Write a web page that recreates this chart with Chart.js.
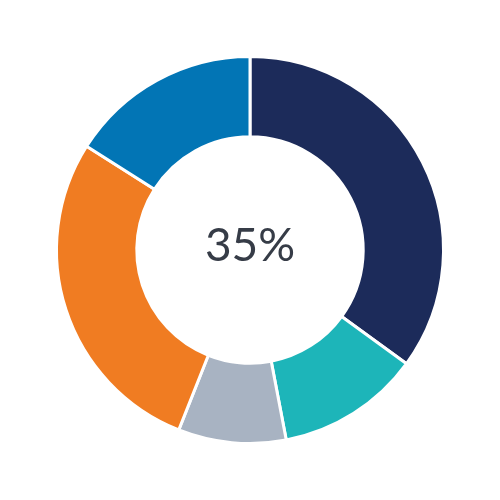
<!DOCTYPE html>
<html>
<head>
<meta charset="utf-8">
<script src="https://cdn.jsdelivr.net/npm/chart.js@4/dist/chart.umd.min.js"></script>
<style>
  html, body { margin: 0; padding: 0; background: #fff; }
  #wrap { width: 500px; height: 500px; position: relative; }
</style>
</head>
<body>
<div id="wrap"><canvas id="myChart"></canvas></div>
<script>
const labels = ['Navy', 'Teal', 'Gray', 'Orange', 'Blue'];
const values = [35, 12, 9, 28, 16];
const colors = ['#1c2b5a', '#1db5b9', '#a8b3c2', '#f07c22', '#0275b5'];
const centerText = '35%';

// draws the big number in the hole
const centerLabel = {
  id: 'centerLabel',
  afterDraw(chart) {
    const ctx = chart.ctx;
    const meta = chart.getDatasetMeta(0).data[0];
    ctx.save();
    ctx.font = '46px Lato';
    ctx.fillStyle = '#363c47';
    ctx.textAlign = 'center';
    ctx.textBaseline = 'middle';
    ctx.fillText(centerText, meta.x, meta.y - 4);
    ctx.restore();
  }
};

const data = {
  labels: labels,
  datasets: [{
    data: values,
    backgroundColor: colors,
    borderColor: '#ffffff',
    borderWidth: 3
  }]
};

const config = {
  type: 'doughnut',
  data: data,
  options: {
    responsive: true,
    maintainAspectRatio: false,
    animation: false,
    cutout: '58.5%',
    layout: { padding: 55 },
    plugins: {
      legend: { display: false },
      tooltip: { enabled: false }
    }
  },
  plugins: [centerLabel]
};

const myChart = new Chart(document.getElementById('myChart'), config);
</script>
</body>
</html>
